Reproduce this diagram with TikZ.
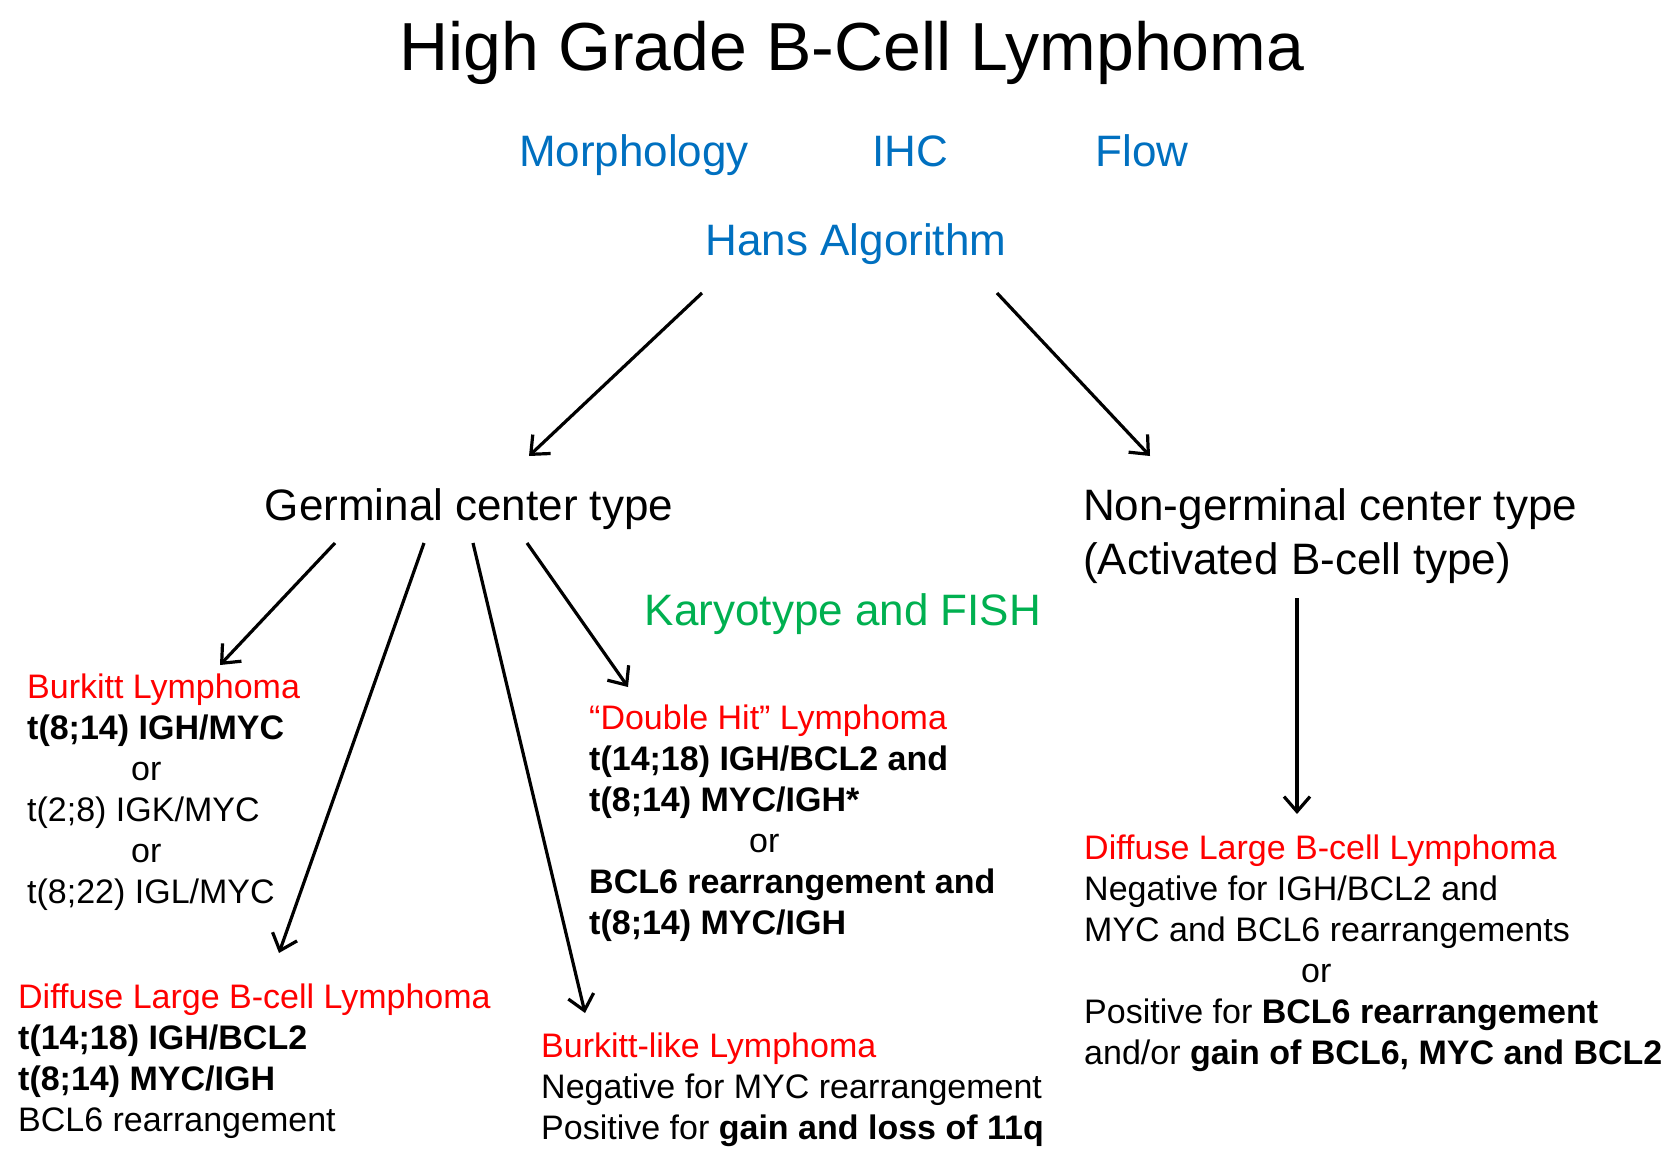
\documentclass[tikz,border=0pt]{standalone}
\usepackage{fontspec}
\setmainfont{Liberation Sans}
\usetikzlibrary{arrows.meta}
\definecolor{hblue}{RGB}{0,112,192}
\definecolor{hred}{RGB}{255,0,0}
\definecolor{hgreen}{RGB}{0,176,80}
\tikzset{
  titletext/.style={font=\fontsize{68}{80}\selectfont, inner sep=0pt, anchor=base},
  bluetext/.style={font=\fontsize{44}{54}\selectfont, text=hblue, inner sep=0pt, anchor=base},
  typetext/.style={font=\fontsize{44}{54}\selectfont, inner sep=0pt, align=left},
  block/.style={font=\fontsize{34}{41}\selectfont, inner sep=0pt, align=left, anchor=base west},
  conn/.style={line width=3.2pt, -{Straight Barb[length=15pt,width=26pt,line width=3.2pt]}}
}
\begin{document}
\begin{tikzpicture}[x=1pt,y=-1pt]
\useasboundingbox[fill=white] (0,0) rectangle (1669,1158);

\node[titletext] (title) at (852,71) {High Grade B-Cell Lymphoma};

\node[bluetext] (morph) at (634,167) {Morphology};
\node[bluetext] (ihc) at (910,167) {IHC};
\node[bluetext] (flow) at (1142,167) {Flow};
\node[bluetext] (hans) at (856,255) {Hans Algorithm};

\node[typetext, anchor=base] (gc) at (469,520) {Germinal center type};
\node[typetext, anchor=base west] (ngc) at (1083,574) {Non-germinal center type\\(Activated B-cell type)};
\node[bluetext, text=hgreen] (kary) at (843,625) {Karyotype and FISH};

% multi-line blocks: base = baseline of the last line
\node[block] (burkitt) at (27,903) {\textcolor{hred}{Burkitt Lymphoma}\\
\textbf{t(8;14) IGH/MYC}\\
\hspace*{104pt}or\\
t(2;8) IGK/MYC\\
\hspace*{104pt}or\\
t(8;22) IGL/MYC};

\node[block] (dhit) at (589,934) {\textcolor{hred}{“Double Hit” Lymphoma}\\
\textbf{t(14;18) IGH/BCL2 and}\\
\textbf{t(8;14) MYC/IGH*}\\
\hspace*{160pt}or\\
\textbf{BCL6 rearrangement and}\\
\textbf{t(8;14) MYC/IGH}};

\node[block] (dlbcl) at (18,1131) {\textcolor{hred}{Diffuse Large B-cell Lymphoma}\\
\textbf{t(14;18) IGH/BCL2}\\
\textbf{t(8;14) MYC/IGH}\\
BCL6 rearrangement};

\node[block] (blike) at (541,1139) {\textcolor{hred}{Burkitt-like Lymphoma}\\
Negative for MYC rearrangement\\
Positive for \textbf{gain and loss of 11q}};

\node[block] (dlbclr) at (1084,1064) {\textcolor{hred}{Diffuse Large B-cell Lymphoma}\\
Negative for IGH/BCL2 and\\
MYC and BCL6 rearrangements\\
\hspace*{217pt}or\\
Positive for \textbf{BCL6 rearrangement}\\
and/or \textbf{gain of BCL6, MYC and BCL2}};

% connector end points
\coordinate (hansL) at (702,293);
\coordinate (hansR) at (997,293);
\coordinate (gcIn) at (529,456);
\coordinate (ngcIn) at (1150,456);
\coordinate (gc1) at (335,543);
\coordinate (gc2) at (424,543);
\coordinate (gc3) at (473,543);
\coordinate (gc4) at (527,543);
\coordinate (burkittIn) at (220,665);
\coordinate (dlbclIn) at (279,953);
\coordinate (blikeIn) at (585,1013);
\coordinate (dhitIn) at (628,687);
\coordinate (ngcOut) at (1297,598);
\coordinate (dlbclrIn) at (1297,814);

\draw[conn] (hansL) -- (gcIn);
\draw[conn] (hansR) -- (ngcIn);
\draw[conn] (gc1) -- (burkittIn);
\draw[conn] (gc2) -- (dlbclIn);
\draw[conn] (gc3) -- (blikeIn);
\draw[conn] (gc4) -- (dhitIn);
\draw[conn] (ngcOut) -- (dlbclrIn);
\end{tikzpicture}
\end{document}
